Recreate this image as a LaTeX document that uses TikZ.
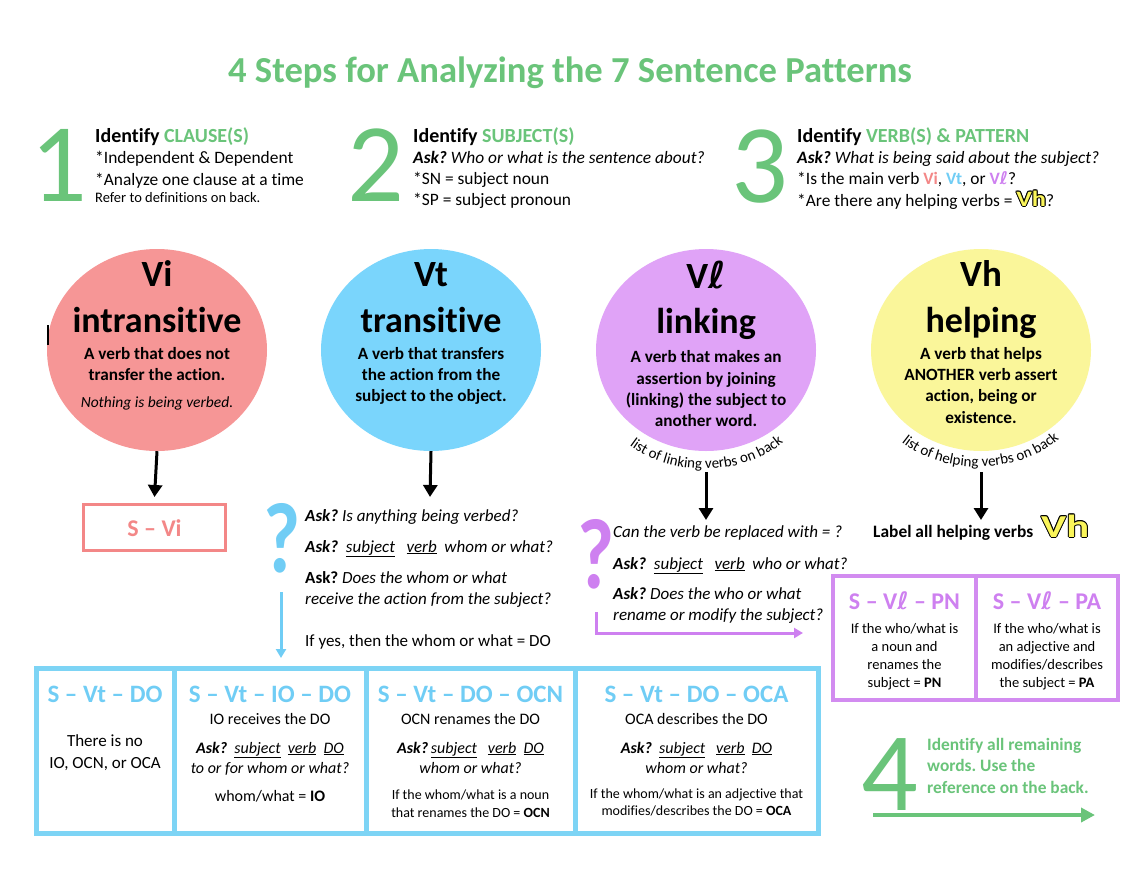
\documentclass[tikz,border=0pt]{standalone}
\usepackage{fontspec}
\setmainfont{Carlito}[Ligatures={NoCommon,NoContextual,NoRequired},RawFeature={-clig;-dlig}]
\newfontfamily\dvs{DejaVu Sans}
\usepackage{graphicx}
\usetikzlibrary{arrows.meta,decorations.text,shapes.geometric}
\frenchspacing
\definecolor{sgreen}{RGB}{106,196,122}
\definecolor{pinkc}{RGB}{246,150,150}
\definecolor{bluec}{RGB}{122,213,252}
\definecolor{purplec}{RGB}{224,163,247}
\definecolor{yellowc}{RGB}{250,246,154}
\definecolor{pinkt}{RGB}{243,135,135}
\definecolor{bluet}{RGB}{112,205,245}
\definecolor{purplet}{RGB}{206,128,240}
\definecolor{bbord}{RGB}{125,212,245}
\definecolor{pbord}{RGB}{210,140,240}
\definecolor{vhy}{RGB}{250,245,90}
\newcommand\fz[1]{\fontsize{#1}{#1}\selectfont}
\newcommand\lsym{{\dvs ℓ}}
\newcommand\Ask{\textbf{\textit{Ask?}}}
\newcommand\vhout[2]{\begingroup\def\vht{\scalebox{#2}[1]{\fz{#1}\bfseries Vh}}%
\rlap{\kern-1pt\textcolor{black}{\vht}}%
\rlap{\kern1pt\textcolor{black}{\vht}}%
\rlap{\raisebox{1pt}{\textcolor{black}{\vht}}}%
\rlap{\raisebox{-1pt}{\textcolor{black}{\vht}}}%
\rlap{\kern-.7pt\raisebox{.7pt}{\textcolor{black}{\vht}}}%
\rlap{\kern.7pt\raisebox{.7pt}{\textcolor{black}{\vht}}}%
\rlap{\kern-.7pt\raisebox{-.7pt}{\textcolor{black}{\vht}}}%
\rlap{\kern.7pt\raisebox{-.7pt}{\textcolor{black}{\vht}}}%
\textcolor{vhy}{\vht}\endgroup}
\tikzset{
  t/.style={inner sep=0pt, anchor=base},
  tw/.style={inner sep=0pt, anchor=base west},
  circ/.style={ellipse, draw=none, minimum width=220pt, minimum height=202pt, inner sep=0pt},
  darr/.style={line width=3pt, -{Triangle[length=12pt,width=14pt]}},
  bbox/.style={draw=bbord, line width=5pt, rectangle, inner sep=0pt},
  pbox/.style={draw=pbord, line width=4pt, rectangle, inner sep=0pt},
  bhead/.style={t, text=bluet, font=\fz{25}\bfseries},
  phead/.style={t, text=purplet, font=\fz{24}\bfseries},
}
\begin{document}
\begin{tikzpicture}[x=1pt,y=1pt]
\useasboundingbox[fill=white] (0,0) rectangle (1140,-879);

% title
\node[t, text=sgreen] (title) at (570,-82) {\fz{36.6}\bfseries 4 Steps for Analyzing the 7 Sentence Patterns};

% step 1
\node[tw, text=sgreen] (n1) at (30,-201) {\fz{112}1};
\node[tw] (s1a) at (95,-142) {\fz{20}\bfseries Identify \textcolor{sgreen}{CLAUSE(S)}};
\node[tw] (s1b) at (95,-163) {\fz{17.4}*Independent \& Dependent};
\node[tw] (s1c) at (95,-185) {\fz{17.4}*Analyze one clause at a time};
\node[tw] (s1d) at (95,-202) {\fz{14.5}Refer to definitions on back.};

% step 2
\node[tw, text=sgreen] (n2) at (347,-201) {\fz{112}2};
\node[tw] (s2a) at (413,-142) {\fz{20}\bfseries Identify \textcolor{sgreen}{SUBJECT(S)}};
\node[tw] (s2b) at (413,-163) {\fz{17.4}\Ask{} \textit{Who or what is the sentence about?}};
\node[tw] (s2c) at (413,-184) {\fz{17.4}*SN = subject noun};
\node[tw] (s2d) at (413,-205) {\fz{17.4}*SP = subject pronoun};

% step 3
\node[tw, text=sgreen] (n3) at (731,-202) {\fz{112}3};
\node[tw] (s3a) at (797,-142) {\fz{20}\bfseries Identify \textcolor{sgreen}{VERB(S) \& PATTERN}};
\node[tw] (s3b) at (797,-163) {\fz{17.4}\Ask{} \textit{What is being said about the subject?}};
\node[tw] (s3c) at (797,-184) {\fz{17.4}*Is the main verb \textbf{\textcolor{pinkt}{Vi}}, \textbf{\textcolor{bluet}{Vt}}, or \textbf{\textcolor{purplet}{V\lsym}}?};
\node[tw] (s3d) at (797,-206) {\fz{17.4}*Are there any helping verbs = \vhout{22}{1.2}?};

% circles
\node[circ, fill=pinkc] (vi) at (157,-350) {};
\node[circ, fill=bluec] (vt) at (431,-350) {};
\node[circ, fill=purplec] (vl) at (706,-350) {};
\node[circ, fill=yellowc] (vh) at (981,-350) {};

\draw[line width=2pt] (48,-325) coordinate (mk1) -- (48,-345) coordinate (mk2);

\node[t] (vi1) at (157,-286) {\fz{37}\bfseries Vi};
\node[t] (vi2) at (157,-332) {\fz{36}\bfseries intransitive};
\node[t] (vi3) at (157,-359) {\fz{17.2}\bfseries A verb that does not};
\node[t] (vi4) at (157,-380) {\fz{17.2}\bfseries transfer the action.};
\node[t] (vi5) at (157,-407) {\fz{15.5}\itshape Nothing is being verbed.};

\node[t] (vt1) at (431,-286) {\fz{37}\bfseries Vt};
\node[t] (vt2) at (431,-332) {\fz{36}\bfseries transitive};
\node[t] (vt3) at (431,-359) {\fz{17.2}\bfseries A verb that transfers};
\node[t] (vt4) at (431,-380) {\fz{17.2}\bfseries the action from the};
\node[t] (vt5) at (431,-401) {\fz{17.2}\bfseries subject to the object.};

\node[t] (vl1) at (706,-288) {\fz{37}\bfseries V\lsym};
\node[t] (vl2) at (706,-333) {\fz{36}\bfseries linking};
\node[t] (vl3) at (706,-362) {\fz{17.2}\bfseries A verb that makes an};
\node[t] (vl4) at (706,-384) {\fz{17.2}\bfseries assertion by joining};
\node[t] (vl5) at (706,-405) {\fz{17.2}\bfseries (linking) the subject to};
\node[t] (vl6) at (706,-426) {\fz{17.2}\bfseries another word.};

\node[t] (vh1) at (981,-286) {\fz{37}\bfseries Vh};
\node[t] (vh2) at (981,-332) {\fz{36}\bfseries helping};
\node[t] (vh3) at (981,-359) {\fz{17.2}\bfseries A verb that helps};
\node[t] (vh4) at (981,-380) {\fz{17.2}\bfseries ANOTHER verb assert};
\node[t] (vh5) at (981,-401) {\fz{17.2}\bfseries action, being or};
\node[t] (vh6) at (981,-423) {\fz{17.2}\bfseries existence.};

% curved captions
\path[decorate, decoration={text along path, text align=center, text={|\fz{15}|list of linking verbs on back}}]
  (610,-425) .. controls (648,-484) and (764,-484) .. (802,-421);
\path[decorate, decoration={text along path, text align=center, text={|\fz{15}|list of helping verbs on back}}]
  (884,-423) .. controls (922,-482) and (1038,-482) .. (1076,-419);

% down arrows
\node[pbox, draw=pinkt, line width=3pt, minimum width=142pt, minimum height=46pt] (svi) at (154.5,-527.5) {};
\node[t, text=pinkt] (svit) at (154.5,-536) {\fz{24}\bfseries S -- Vi};
\draw[darr] (vi.south) -- ([yshift=6pt]svi.north);
\coordinate (vte) at (430,-497);
\draw[darr] (vt.south) -- (vte);
\coordinate (vls) at (706,-472);
\coordinate (vle) at (706,-520);
\draw[darr] (vls) -- (vle);
\coordinate (vhs) at (981,-472);
\coordinate (vhe) at (981,-520);
\draw[darr] (vhs) -- (vhe);

% blue question block
\node[tw, text=bluet] (qb) at (263,-572) {\scalebox{0.8}[1]{\fz{100}\bfseries ?}};
\coordinate (qbs) at (281,-592);
\coordinate (qbe) at (281,-658);
\draw[bluet, line width=3pt, -{Triangle[length=9pt,width=10pt]}] (qbs) -- (qbe);
\node[tw] (q1) at (305,-521) {\fz{17}\Ask{} \textit{Is anything being verbed?}};
\node[tw] (q2) at (305,-552) {\fz{17}\Ask{}\ \ \textit{\underline{subject}\ \ \ \underline{verb}\ \ whom or what?}};
\node[tw] (q3) at (305,-583) {\fz{17}\textbf{Ask?} \textit{Does the whom or what}};
\node[tw] (q4) at (305,-604) {\fz{17}\textit{receive the action from the subject?}};
\node[tw] (q5) at (305,-646) {\fz{17}If yes, then the whom or what = DO};

% purple question block
\node[tw, text=purplet] (qp) at (577,-588) {\scalebox{0.8}[1]{\fz{100}\bfseries ?}};
\node[tw] (r1) at (613,-537) {\fz{17}\textit{Can the verb be replaced with = ?}};
\node[tw] (r2) at (613,-569) {\fz{17}\Ask{}\ \ \textit{\underline{subject}\ \ \ \underline{verb}\ \ who or what?}};
\node[tw] (r3) at (613,-599) {\fz{17}\Ask{} \textit{Does the who or what}};
\node[tw] (r4) at (613,-620) {\fz{17}\textit{rename or modify the subject?}};
\coordinate (pqs) at (596,-612);
\coordinate (pqe) at (803,-633);
\draw[purplet, line width=3pt, -{Triangle[length=9pt,width=10pt]}] (pqs) |- (pqe);

% helping label
\node[tw] (lab) at (873,-537) {\fz{17.4}\bfseries Label all helping verbs\ \ \vhout{32}{1.33}};

% purple boxes
\node[pbox, minimum width=143pt, minimum height=124pt] (p1) at (904.5,-638) {};
\node[pbox, minimum width=142pt, minimum height=124pt] (p2) at (1047,-638) {};
\node[phead] (p1h) at (904.5,-609) {S -- V\lsym{} -- PN};
\node[phead] (p2h) at (1047,-609) {S -- V\lsym{} -- PA};
\node[t] (p1a) at (904.5,-633) {\fz{14.5}If the who/what is};
\node[t] (p1b) at (904.5,-651) {\fz{14.5}a noun and};
\node[t] (p1c) at (904.5,-669) {\fz{14.5}renames the};
\node[t] (p1d) at (904.5,-687) {\fz{14.5}subject = \textbf{PN}};
\node[t] (p2a) at (1047,-633) {\fz{14.5}If the who/what is};
\node[t] (p2b) at (1047,-651) {\fz{14.5}an adjective and};
\node[t] (p2c) at (1047,-669) {\fz{14.5}modifies/describes};
\node[t] (p2d) at (1047,-687) {\fz{14.5}the subject = \textbf{PA}};

% blue boxes
\node[bbox, minimum width=138pt, minimum height=165pt] (b1) at (105,-750.5) {};
\node[bbox, minimum width=192pt, minimum height=165pt] (b2) at (270,-750.5) {};
\node[bbox, minimum width=209pt, minimum height=165pt] (b3) at (470.5,-750.5) {};
\node[bbox, minimum width=243pt, minimum height=165pt] (b4) at (696.5,-750.5) {};

\node[bhead] (b1h) at (105,-702) {S -- Vt -- DO};
\node[t] (b1a) at (105,-746) {\fz{17}There is no};
\node[t] (b1b) at (105,-768) {\fz{17}IO, OCN, or OCA};

\node[bhead] (b2h) at (270,-702) {S -- Vt -- IO -- DO};
\node[t] (b2a) at (270,-724) {\fz{16}IO receives the DO};
\node[t] (b2b) at (270,-753) {\fz{16}\Ask{}\ \ \textit{\underline{subject}\ \ \underline{verb}\ \ \underline{DO}}};
\node[t] (b2c) at (270,-773) {\fz{16}\textit{to or for whom or what?}};
\node[t] (b2d) at (270,-801) {\fz{16}whom/what = \textbf{IO}};

\node[bhead] (b3h) at (470.5,-702) {S -- Vt -- DO -- OCN};
\node[t] (b3a) at (470.5,-724) {\fz{16}OCN renames the DO};
\node[t] (b3b) at (470.5,-753) {\fz{16}\Ask{}\,\textit{\underline{subject}\ \ \ \underline{verb}\ \ \underline{DO}}};
\node[t] (b3c) at (470.5,-773) {\fz{16}\textit{whom or what?}};
\node[t] (b3d) at (470.5,-799) {\fz{14}If the whom/what is a noun};
\node[t] (b3e) at (470.5,-817) {\fz{14}that renames the DO = \textbf{OCN}};

\node[bhead] (b4h) at (696.5,-702) {S -- Vt -- DO -- OCA};
\node[t] (b4a) at (696.5,-724) {\fz{16}OCA describes the DO};
\node[t] (b4b) at (696.5,-753) {\fz{16}\Ask{}\ \ \textit{\underline{subject}\ \ \ \underline{verb}\ \ \underline{DO}}};
\node[t] (b4c) at (696.5,-773) {\fz{16}\textit{whom or what?}};
\node[t] (b4d) at (696.5,-798) {\fz{14}If the whom/what is an adjective that};
\node[t] (b4e) at (696.5,-815) {\fz{14}modifies/describes the DO = \textbf{OCA}};

% step 4
\node[tw, text=sgreen] (n4) at (861,-810) {\fz{112}4};
\node[tw, text=sgreen] (s4a) at (927,-750) {\fz{17.4}\bfseries Identify all remaining};
\node[tw, text=sgreen] (s4b) at (927,-771) {\fz{17.4}\bfseries words. Use the};
\node[tw, text=sgreen] (s4c) at (927,-793) {\fz{17.4}\bfseries reference on the back.};
\coordinate (g4s) at (873,-815);
\coordinate (g4e) at (1095,-815);
\draw[sgreen, line width=4pt, -{Triangle[length=14pt,width=14pt]}] (g4s) -- (g4e);
\end{tikzpicture}
\end{document}
